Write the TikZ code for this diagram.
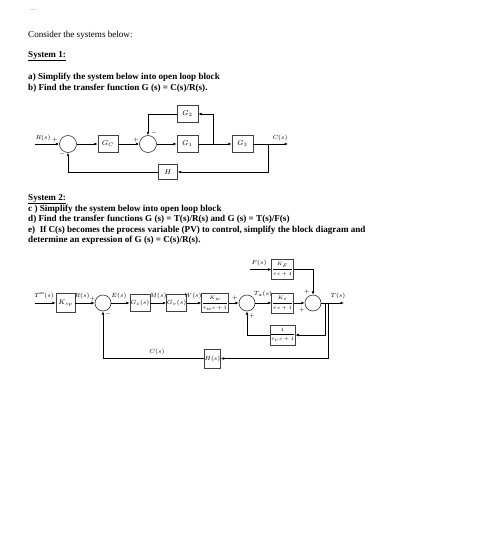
\documentclass[tikz,border=0pt]{standalone}
\usepackage{amsmath}
\usepackage{fontspec}
\setmainfont{Liberation Serif}
\usetikzlibrary{arrows.meta}
\begin{document}
\begin{tikzpicture}[x=1pt,y=-1pt,
  txt/.style={anchor=west,inner sep=0pt,font=\fontsize{9.1}{10}\selectfont},
  btxt/.style={txt,font=\fontsize{9.1}{10}\selectfont\bfseries},
  blk/.style={draw=black!75,line width=0.6pt,inner sep=0pt,font=\fontsize{6.8}{7}\selectfont},
  sblk/.style={draw=black!75,line width=0.6pt,inner sep=0pt,font=\fontsize{5.2}{5.6}\selectfont},
  sumc/.style={circle,draw=black!80,line width=0.6pt,inner sep=0pt},
  arr/.style={-{Latex[length=3.4pt,width=2.8pt]},line width=0.65pt},
  ln/.style={line width=0.65pt},
  lbl/.style={inner sep=0pt,font=\fontsize{6.2}{7}\selectfont},
  slbl/.style={inner sep=0pt,font=\fontsize{5.6}{6}\selectfont},
  sgn/.style={inner sep=0pt,font=\fontsize{5.8}{6}\selectfont}]
\useasboundingbox[fill=white] (0,0) rectangle (488,544);
\draw[yellow,line width=0.6pt] (30,9) -- (36,9);
% ---- text ----
\node[txt] (t1) at (28,35) {Consider the systems below:};
\node[btxt] (t2) at (28,56) {\underline{System 1:}};
\node[btxt] (t3) at (28,77) {a) Simplify the system below into open loop block};
\node[btxt] (t4) at (28,88) {b) Find the transfer function G (s) = C(s)/R(s).};
\node[btxt] (t5) at (28,199) {\underline{System 2:}};
\node[btxt] (t6) at (28,209) {c ) Simplify the system below into open loop block};
\node[btxt] (t7) at (28,219.5) {d) Find the transfer functions G (s) = T(s)/R(s) and G (s) = T(s)/F(s)};
\node[btxt] (t8) at (28,230) {e)\ \ If C(s) becomes the process variable (PV) to control, simplify the block diagram and};
\node[btxt] (t9) at (28,240.5) {determine an expression of G (s) = C(s)/R(s).};
% ---- system 1 ----
\coordinate (rin) at (35,144);
\node[sumc,minimum size=17pt] (s1) at (68,144) {};
\node[blk,minimum width=20pt,minimum height=17pt] (gc) at (108,144) {$G_C$};
\node[sumc,minimum size=17pt] (s2) at (148,144) {};
\node[blk,minimum width=21pt,minimum height=17pt] (g1) at (187.5,144) {$G_1$};
\node[blk,minimum width=21pt,minimum height=17pt] (g2) at (187.5,114) {$G_2$};
\node[blk,minimum width=21pt,minimum height=17pt] (g3) at (242.5,144) {$G_3$};
\node[blk,minimum width=19pt,minimum height=15pt] (h) at (168,172) {$H$};
\coordinate (b1) at (213,144);
\coordinate (b2) at (268,144);
\coordinate (cout) at (288,144);
\node[lbl] (rl) at (43,138) {$R(s)$};
\node[lbl] (cl) at (280,138) {$C(s)$};
\node[sgn] (p1) at (55,139.5) {$+$};
\node[sgn] (m1) at (62,154) {$-$};
\node[sgn] (p2) at (136,139.5) {$+$};
\node[sgn] (m2) at (154,133) {$-$};
\draw[arr] (rin) -- (s1.west);
\draw[arr] (s1.east) -- (gc.west);
\draw[arr] (gc.east) -- (s2.west);
\draw[arr] (s2.east) -- (g1.west);
\draw[arr] (g1.east) -- (g3.west);
\draw[ln] (g3.east) -- (b2);
\draw[arr] (b2) -- (cout);
\draw[arr] (b1) |- (g2.east);
\draw[arr] (g2.west) -| (s2.north);
\draw[arr] (b2) |- (h.east);
\draw[arr] (h.west) -| (s1.south);
% ---- system 2 ----
\coordinate (tin) at (35,303);
\node[blk,minimum width=19pt,minimum height=19pt] (ksp) at (65.5,303) {$K_{sp}$};
\node[sumc,minimum size=16pt] (sa) at (103,303) {};
\node[blk,minimum width=20pt,minimum height=17pt,font=\fontsize{6}{6}\selectfont] (gcs) at (140,303) {$G_c(s)$};
\node[blk,minimum width=20pt,minimum height=17pt,font=\fontsize{6}{6}\selectfont] (gvs) at (176.5,303) {$G_v(s)$};
\node[sblk,minimum width=21pt,minimum height=19pt] (kw) at (215,303) {$\dfrac{K_w}{\tau_w s+1}$};
\node[sumc,minimum size=16pt] (sb) at (247,303) {};
\node[sblk,minimum width=21pt,minimum height=20pt] (ks) at (282.5,303) {$\dfrac{K_s}{\tau s+1}$};
\node[sumc,minimum size=16pt] (sc) at (313,303) {};
\node[sblk,minimum width=21pt,minimum height=20pt] (kp) at (282.5,269.5) {$\dfrac{K_F}{\tau s+1}$};
\node[sblk,minimum width=21pt,minimum height=20pt] (tv) at (282.5,335) {$\dfrac{1}{\tau_v s+1}$};
\node[blk,minimum width=16pt,minimum height=19pt,font=\fontsize{6}{6}\selectfont] (hs) at (212.5,358.5) {$H(s)$};
\coordinate (fin) at (250,269.5);
\coordinate (c1) at (325,303);
\coordinate (c2) at (328,303);
\coordinate (tout) at (344,303);
\node[slbl] (tsl) at (44,295.5) {$T^{\mathrm{set}}(s)$};
\node[slbl] (rsl) at (82,296) {$R(s)$};
\node[slbl] (esl) at (119,296) {$E(s)$};
\node[slbl] (msl) at (158,296) {$M(s)$};
\node[slbl] (wsl) at (193,296) {$W(s)$};
\node[slbl] (tal) at (263,294) {$T_a(s)$};
\node[slbl] (fsl) at (259,263) {$F(s)$};
\node[slbl] (tl) at (338,296) {$T(s)$};
\node[slbl] (csl) at (157,352) {$C(s)$};
\node[sgn] (q1) at (92.5,298.5) {$+$};
\node[sgn] (q2) at (108,313.5) {$-$};
\node[sgn] (q3) at (235,297.5) {$+$};
\node[sgn] (q4) at (252,316) {$+$};
\node[sgn] (q5) at (307,292) {$+$};
\node[sgn] (q6) at (302,309.5) {$+$};
\draw[arr] (tin) -- (ksp.west);
\draw[arr] (ksp.east) -- (sa.west);
\draw[arr] (sa.east) -- (gcs.west);
\draw[arr] (gcs.east) -- (gvs.west);
\draw[arr] (gvs.east) -- (kw.west);
\draw[arr] (kw.east) -- (sb.west);
\draw[arr] (sb.east) -- (ks.west);
\draw[arr] (ks.east) -- (sc.west);
\draw[arr] (fin) -- (kp.west);
\draw[arr] (kp.east) -| (sc.north);
\draw[ln] (sc.east) -- (c1);
\draw[arr] (c1) -- (tout);
\draw[arr] (c1) |- (tv.east);
\draw[arr] (c2) |- (hs.east);
\draw[arr] (tv.west) -| (sb.south);
\draw[arr] (hs.west) -| (sa.south);
\end{tikzpicture}
\end{document}
